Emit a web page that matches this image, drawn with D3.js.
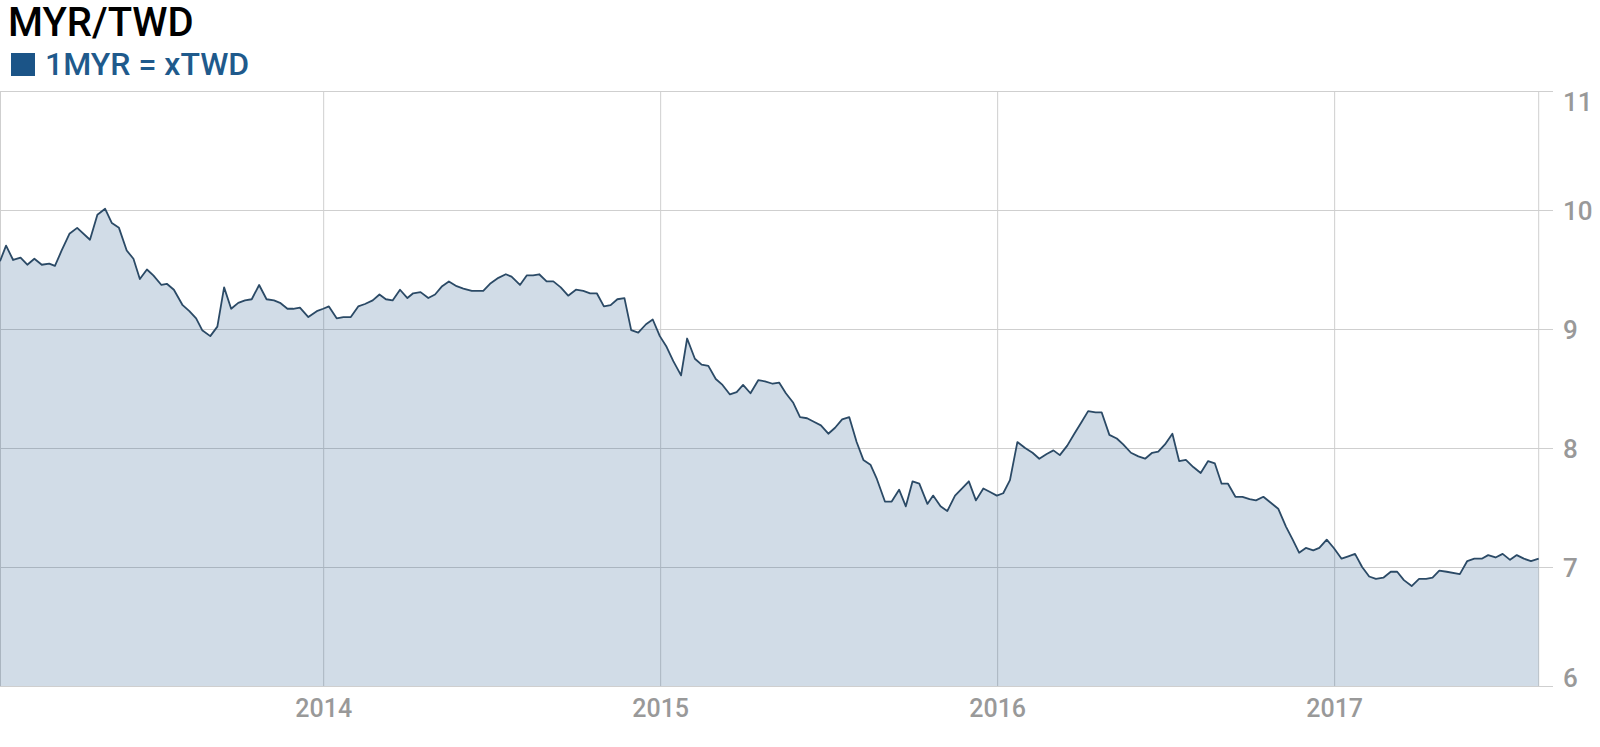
<!DOCTYPE html>
<html>
<head>
<meta charset="utf-8">
<script src="https://cdn.jsdelivr.net/npm/d3@7"></script>
<style>
  html, body { margin: 0; padding: 0; background: #fff; }
  svg { display: block; font-family: Roboto, "Noto Sans", sans-serif; }
</style>
</head>
<body>
<div id="chart"></div>
<script>
// ============================================
// MYR/TWD weekly rate, area chart
// ============================================

const title = 'MYR/TWD';
const seriesName = '1MYR = xTWD';

// time as decimal years
const years = [
  2013.041, 2013.059, 2013.080, 2013.102, 2013.122, 2013.143, 2013.165, 2013.187, 2013.204, 2013.224,
  2013.247, 2013.270, 2013.308, 2013.330, 2013.353, 2013.373, 2013.394, 2013.417, 2013.437, 2013.456,
  2013.477, 2013.496, 2013.520, 2013.536, 2013.557, 2013.583, 2013.603, 2013.623, 2013.641, 2013.665,
  2013.686, 2013.706, 2013.727, 2013.748, 2013.768, 2013.788, 2013.810, 2013.832, 2013.854, 2013.872,
  2013.894, 2013.911, 2013.931, 2013.956, 2013.981, 2014.000, 2014.017, 2014.040, 2014.060, 2014.082,
  2014.104, 2014.124, 2014.147, 2014.167, 2014.186, 2014.206, 2014.228, 2014.250, 2014.267, 2014.289,
  2014.312, 2014.332, 2014.353, 2014.373, 2014.396, 2014.416, 2014.441, 2014.475, 2014.495, 2014.520,
  2014.542, 2014.559, 2014.584, 2014.604, 2014.623, 2014.641, 2014.663, 2014.683, 2014.705, 2014.727,
  2014.750, 2014.772, 2014.792, 2014.812, 2014.833, 2014.853, 2014.873, 2014.894, 2014.914, 2014.935,
  2014.958, 2014.978, 2014.999, 2015.019, 2015.039, 2015.062, 2015.080, 2015.103, 2015.123, 2015.143,
  2015.165, 2015.185, 2015.207, 2015.227, 2015.246, 2015.268, 2015.291, 2015.311, 2015.334, 2015.353,
  2015.373, 2015.395, 2015.415, 2015.436, 2015.456, 2015.477, 2015.499, 2015.519, 2015.540, 2015.561,
  2015.583, 2015.603, 2015.624, 2015.643, 2015.667, 2015.687, 2015.709, 2015.729, 2015.749, 2015.769,
  2015.793, 2015.810, 2015.832, 2015.852, 2015.875, 2015.896, 2015.916, 2015.937, 2015.959, 2015.979,
  2015.999, 2016.018, 2016.038, 2016.060, 2016.083, 2016.105, 2016.125, 2016.147, 2016.167, 2016.186,
  2016.208, 2016.229, 2016.251, 2016.270, 2016.292, 2016.310, 2016.333, 2016.355, 2016.374, 2016.397,
  2016.419, 2016.439, 2016.460, 2016.478, 2016.498, 2016.520, 2016.540, 2016.560, 2016.582, 2016.604,
  2016.626, 2016.646, 2016.666, 2016.685, 2016.707, 2016.728, 2016.749, 2016.768, 2016.790, 2016.812,
  2016.834, 2016.857, 2016.877, 2016.896, 2016.916, 2016.938, 2016.956, 2016.978, 2016.999, 2017.022,
  2017.042, 2017.062, 2017.083, 2017.104, 2017.124, 2017.146, 2017.168, 2017.187, 2017.207, 2017.230,
  2017.252, 2017.273, 2017.292, 2017.312, 2017.334, 2017.373, 2017.395, 2017.416, 2017.438, 2017.457,
  2017.479, 2017.500, 2017.522, 2017.542, 2017.563, 2017.584, 2017.607
];

const rates = [
  9.57, 9.70, 9.58, 9.60, 9.54, 9.59, 9.54, 9.55, 9.53, 9.66,
  9.80, 9.85, 9.75, 9.96, 10.01, 9.89, 9.85, 9.66, 9.59, 9.42,
  9.50, 9.45, 9.37, 9.38, 9.33, 9.20, 9.15, 9.09, 8.99, 8.94,
  9.02, 9.35, 9.17, 9.22, 9.24, 9.25, 9.37, 9.25, 9.24, 9.22,
  9.17, 9.17, 9.18, 9.10, 9.15, 9.17, 9.19, 9.09, 9.10, 9.10,
  9.19, 9.21, 9.24, 9.29, 9.25, 9.24, 9.33, 9.26, 9.30, 9.31,
  9.26, 9.29, 9.36, 9.40, 9.36, 9.34, 9.32, 9.32, 9.38, 9.43,
  9.46, 9.44, 9.37, 9.45, 9.45, 9.46, 9.40, 9.40, 9.35, 9.28,
  9.33, 9.32, 9.30, 9.30, 9.19, 9.20, 9.25, 9.26, 8.99, 8.97,
  9.04, 9.08, 8.94, 8.85, 8.73, 8.61, 8.92, 8.75, 8.70, 8.69,
  8.58, 8.53, 8.45, 8.47, 8.53, 8.46, 8.57, 8.56, 8.54, 8.55,
  8.46, 8.38, 8.26, 8.25, 8.22, 8.19, 8.12, 8.17, 8.24, 8.26,
  8.05, 7.90, 7.86, 7.74, 7.55, 7.55, 7.65, 7.51, 7.72, 7.70,
  7.53, 7.60, 7.51, 7.47, 7.60, 7.66, 7.72, 7.56, 7.66, 7.63,
  7.60, 7.62, 7.73, 8.05, 8.00, 7.96, 7.91, 7.95, 7.98, 7.94,
  8.02, 8.12, 8.22, 8.31, 8.30, 8.30, 8.11, 8.08, 8.03, 7.96,
  7.93, 7.91, 7.96, 7.97, 8.03, 8.12, 7.89, 7.90, 7.84, 7.79,
  7.89, 7.87, 7.70, 7.70, 7.59, 7.59, 7.57, 7.56, 7.59, 7.54,
  7.49, 7.34, 7.23, 7.12, 7.16, 7.14, 7.16, 7.23, 7.16, 7.07,
  7.09, 7.11, 7.00, 6.92, 6.90, 6.91, 6.96, 6.96, 6.89, 6.84,
  6.90, 6.90, 6.91, 6.97, 6.96, 6.94, 7.05, 7.07, 7.07, 7.10,
  7.08, 7.11, 7.06, 7.10, 7.07, 7.05, 7.07
];

const xTicks = [2014, 2015, 2016, 2017];
const yTicks = [6, 7, 8, 9, 10, 11];

// ---------- layout ----------
const width = 1600;
const height = 747;
const plot = { left: 0, right: 1538.7, top: 91, bottom: 686 };

const svg = d3.select('#chart')
  .append('svg')
  .attr('width', width)
  .attr('height', height);

const x = d3.scaleLinear()
  .domain([years[0], years[years.length - 1]])
  .range([plot.left, plot.right]);

const y = d3.scaleLinear()
  .domain([6, 11])
  .range([plot.bottom, plot.top]);

const data = years.map((yr, i) => ({ yr, v: rates[i] }));

// title + legend
svg.append('text')
  .attr('x', 8)
  .attr('y', 36)
  .attr('font-size', 40)
  .attr('font-weight', 500)
  .attr('fill', '#000')
  .text(title);

svg.append('rect')
  .attr('x', 11)
  .attr('y', 53)
  .attr('width', 24)
  .attr('height', 23)
  .attr('fill', '#1b5487');

svg.append('text')
  .attr('x', 45)
  .attr('y', 75)
  .attr('font-size', 32)
  .attr('font-weight', 500)
  .attr('fill', '#1f5a8c')
  .text(seriesName);

// y gridlines + labels on the right
const yAxis = svg.append('g')
  .attr('class', 'y-axis')
  .call(d3.axisRight(y)
    .tickValues(yTicks)
    .tickSize(1553)
    .tickPadding(10)
    .tickFormat(d3.format('d')));

yAxis.select('.domain').remove();
yAxis.selectAll('line').attr('stroke', '#cfcfcf');
yAxis.selectAll('text')
  .attr('font-family', 'Roboto, sans-serif')
  .attr('font-size', 26)
  .attr('font-weight', 500)
  .attr('fill', '#999')
  .attr('dy', d => d === 11 ? '0.75em' : (d === 6 ? '0em' : '0.36em'));

// x gridlines + year labels
const xAxis = svg.append('g')
  .attr('class', 'x-axis')
  .attr('transform', `translate(0,${plot.bottom})`)
  .call(d3.axisBottom(x)
    .tickValues(xTicks)
    .tickSize(-(plot.bottom - plot.top))
    .tickPadding(13)
    .tickFormat(d3.format('d')));

xAxis.select('.domain').remove();
xAxis.selectAll('line').attr('stroke', '#cfcfcf');
xAxis.selectAll('text')
  .attr('font-family', 'Roboto, sans-serif')
  .attr('font-size', 25)
  .attr('font-weight', 500)
  .attr('fill', '#999');

// plot borders left / right
svg.append('g')
  .selectAll('line')
  .data([plot.left + 0.5, plot.right])
  .enter().append('line')
  .attr('x1', d => d)
  .attr('x2', d => d)
  .attr('y1', plot.top)
  .attr('y2', plot.bottom)
  .attr('stroke', '#cfcfcf');

// area + line
const area = d3.area()
  .x(d => x(d.yr))
  .y0(y(6))
  .y1(d => y(d.v));

const line = d3.line()
  .x(d => x(d.yr))
  .y(d => y(d.v));

svg.append('path')
  .datum(data)
  .attr('d', area)
  .attr('fill', 'rgba(26, 82, 133, 0.2)');

svg.append('path')
  .datum(data)
  .attr('d', line)
  .attr('fill', 'none')
  .attr('stroke', '#2b4a66')
  .attr('stroke-width', 1.8)
  .attr('stroke-linejoin', 'round');
</script>
</body>
</html>
